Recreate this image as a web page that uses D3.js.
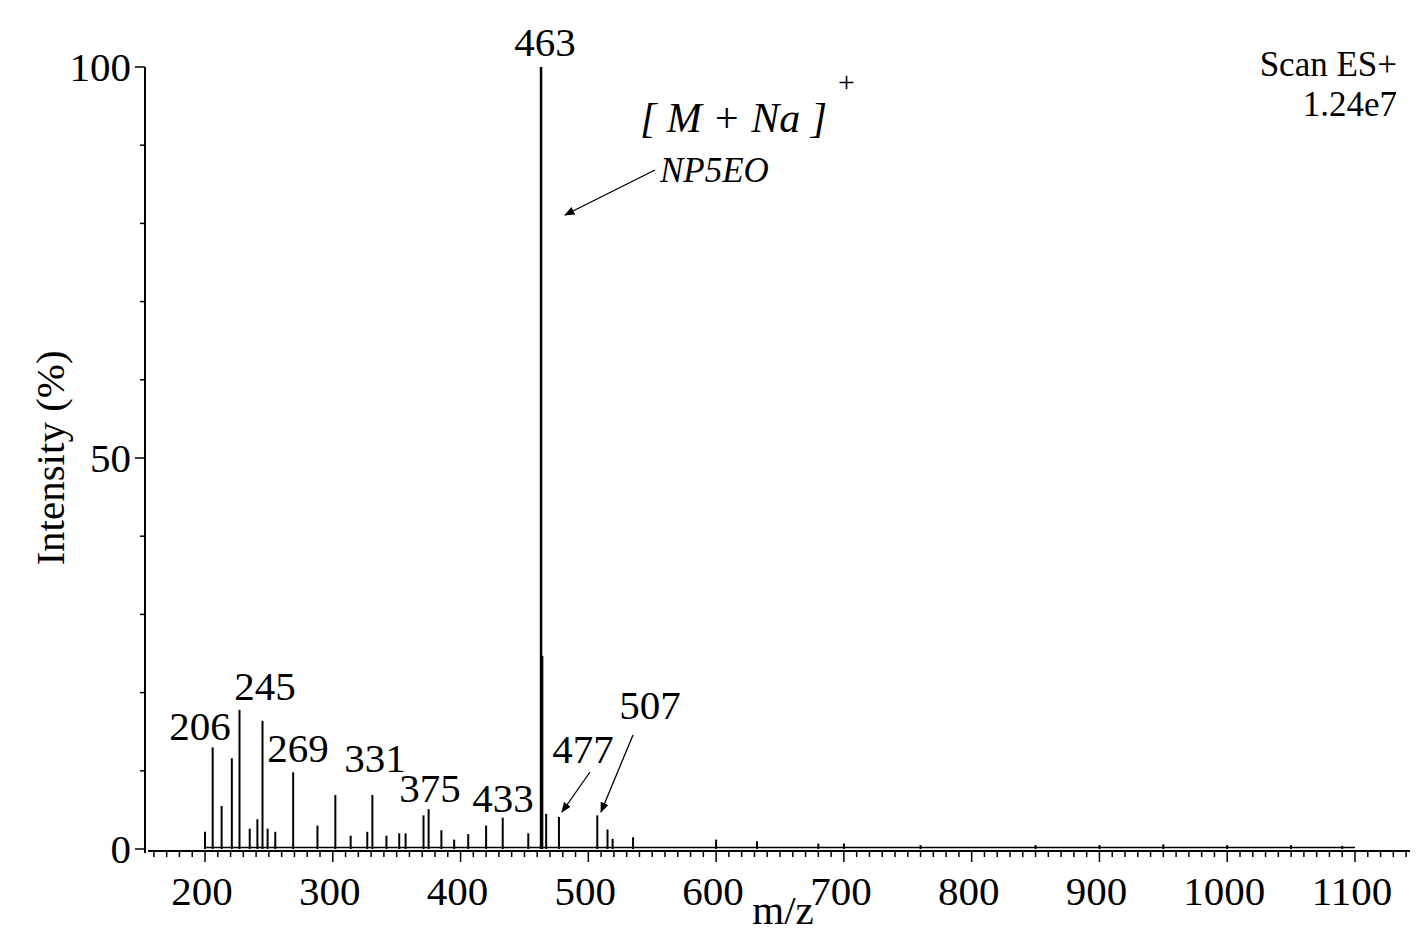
<!DOCTYPE html>
<html><head><meta charset="utf-8">
<script src="https://cdn.jsdelivr.net/npm/d3@7"></script>
<style>body{margin:0;background:#fff}text{font-family:"Liberation Serif","Times New Roman",serif;fill:#000}</style>
</head><body><svg id="c" width="1420" height="933"></svg>
<script>
// peaks: m/z and relative intensity (%)
const peakMz = [200,206,213,221,227,235,241,245,249,255,269,288,302,314,327,331,342,352,357,371,375,385,395,406,420,433,453,463,464,467,477,507,515,519,535,600,632,680,700,760,850,900,950,1000,1050,1090];
const peakInt = [2.2,13,5.5,11.6,17.8,2.6,3.8,16.4,2.6,2.2,9.8,3,6.9,1.7,2.2,6.9,1.7,2,2,4.3,5.1,2.4,1.2,1.9,3,4,2,100,24.7,4.5,4.1,4.3,2.5,1.3,1.5,1.2,1,0.7,0.7,0.5,0.5,0.5,0.6,0.5,0.5,0.4];
const labelMz = [206,245,269,331,375,433,477,507];
const labelPos = [[200,740],[265,700],[298,762],[375,772],[430,802],[503,812],[583,763],[650,719]];
const xTicks = [200,300,400,500,600,700,800,900,1000,1100];
const yTicks = [0,50,100];
const FS = 41;

const svg = d3.select('#c');
const x = d3.scaleLinear().domain([200,1100]).range([205,1355]);
const y = d3.scaleLinear().domain([0,100]).range([849,67]);

// baseline
svg.append('line').attr('x1',x(200)).attr('x2',x(1100)).attr('y1',y(0.2)).attr('y2',y(0.2)).attr('stroke','#000').attr('stroke-width',1.5);
svg.selectAll('.pk').data(peakMz).join('line')
  .attr('x1',d=>x(d)).attr('x2',d=>x(d)).attr('y1',y(0)).attr('y2',(d,i)=>y(peakInt[i]))
  .attr('stroke','#000').attr('stroke-width',(d,i)=>peakInt[i]>50?2.5:2);

// x axis
svg.append('line').attr('x1',148).attr('x2',1410).attr('y1',851).attr('y2',851).attr('stroke','#000').attr('stroke-width',2);
svg.selectAll('.xt').data(d3.range(160,1141,10)).join('line')
  .attr('x1',d=>x(d)).attr('x2',d=>x(d)).attr('y1',851).attr('y2',d=>d%100===0?862:857)
  .attr('stroke','#000').attr('stroke-width',1.5);
svg.selectAll('.xl').data(xTicks).join('text')
  .attr('x',d=>x(d)-3).attr('y',905).attr('text-anchor','middle').attr('font-size',FS).text(d=>d);
svg.append('text').attr('x',783).attr('y',924).attr('text-anchor','middle').attr('font-size',FS).text('m/z');

// y axis
svg.append('line').attr('x1',145).attr('x2',145).attr('y1',y(100)).attr('y2',y(0)+4).attr('stroke','#000').attr('stroke-width',2);
svg.selectAll('.yt').data(d3.range(0,101,10)).join('line')
  .attr('x1',d=>d%50===0?135:140).attr('x2',145).attr('y1',d=>y(d)).attr('y2',d=>y(d))
  .attr('stroke','#000').attr('stroke-width',1.5);
svg.selectAll('.yl').data(yTicks).join('text')
  .attr('x',131).attr('y',d=>y(d)+14).attr('text-anchor','end').attr('font-size',FS).text(d=>d);
svg.append('text').attr('transform','translate(64,458) rotate(-90)').attr('text-anchor','middle').attr('font-size',FS).text('Intensity (%)');

// labels
svg.append('text').attr('x',x(463)+4).attr('y',56).attr('text-anchor','middle').attr('font-size',FS).text('463');
svg.selectAll('.pl').data(labelMz).join('text')
  .attr('x',(d,i)=>labelPos[i][0]).attr('y',(d,i)=>labelPos[i][1]).attr('text-anchor','middle').attr('font-size',FS).text(d=>d);

svg.append('text').attr('x',1397).attr('y',76).attr('text-anchor','end').attr('font-size',35).text('Scan ES+');
svg.append('text').attr('x',1397).attr('y',116).attr('text-anchor','end').attr('font-size',35).text('1.24e7');

svg.append('text').attr('x',640).attr('y',132).attr('font-size',42).attr('font-style','italic').text('[ M + Na ]');
svg.append('text').attr('x',838).attr('y',92).attr('font-size',30).text('+');
svg.append('text').attr('x',660).attr('y',182).attr('font-size',35).attr('font-style','italic').text('NP5EO');

svg.append('defs').append('marker').attr('id','ah').attr('viewBox','0 0 10 10').attr('refX',9).attr('refY',5)
  .attr('markerWidth',8).attr('markerHeight',8).attr('orient','auto')
  .append('path').attr('d','M0,1L10,5L0,9Z').attr('fill','#000');
[[655,170,565,215],[590,772,562,812],[633,735,601,812]].forEach(a=>{
  svg.append('line').attr('x1',a[0]).attr('y1',a[1]).attr('x2',a[2]).attr('y2',a[3])
    .attr('stroke','#000').attr('stroke-width',1.3).attr('marker-end','url(#ah)');
});
</script></body></html>
